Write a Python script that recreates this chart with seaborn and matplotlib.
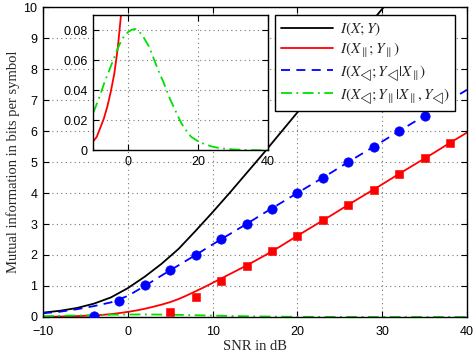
import matplotlib
matplotlib.use("Agg")
import matplotlib.pyplot as plt
import seaborn as sns

# SNR grids (dB)
snr = [-10, -8, -6, -4, -2, 0, 2, 4, 6, 8, 10, 12, 14, 16, 18, 20,
       22, 24, 26, 28, 30, 32, 34, 36, 38, 40]
snr_fine = [-10, -9, -8, -7, -6, -5, -4, -3, -2, -1, 0, 1, 2, 3, 4, 5,
            6, 7, 8, 9, 10, 11, 12, 13, 14, 15, 16, 17, 18, 19, 20,
            22, 24, 26, 28, 30, 32, 34, 36, 38, 40]

# I(X;Y)
mi_total = [0.14, 0.2, 0.29, 0.43, 0.63, 0.93, 1.3, 1.72, 2.2, 2.78, 3.38,
            4.0, 4.64, 5.28, 5.94, 6.6, 7.26, 7.92, 8.6, 9.27, 9.94, 10.6,
            11.26, 11.92, 12.58, 13.24]
# I(X_par;Y_par)
mi_par = [0.006, 0.009, 0.015, 0.021, 0.029, 0.039, 0.051, 0.068, 0.092,
          0.125, 0.165, 0.21, 0.265, 0.33, 0.4, 0.48, 0.58, 0.7, 0.83,
          0.96, 1.1, 1.24, 1.38, 1.52, 1.66, 1.81, 1.96, 2.12, 2.28, 2.45,
          2.62, 2.95, 3.28, 3.62, 3.95, 4.28, 4.62, 4.95, 5.28, 5.62, 5.95]
# I(X_tri;Y_tri|X_par)
mi_tri = [0.12, 0.17, 0.25, 0.35, 0.47, 0.68, 1.0, 1.34, 1.67, 2.0, 2.34,
          2.67, 3.0, 3.34, 3.67, 4.0, 4.33, 4.66, 5.0, 5.33, 5.66, 6.0,
          6.33, 6.66, 7.0, 7.33]
# I(X_tri;Y_par|X_par,Y_tri)
mi_cross = [0.025, 0.031, 0.037, 0.044, 0.05, 0.056, 0.062, 0.068, 0.073,
            0.077, 0.079, 0.0805, 0.081, 0.0795, 0.077, 0.073, 0.069, 0.063,
            0.057, 0.051, 0.046, 0.04, 0.034, 0.029, 0.024, 0.019, 0.015,
            0.012, 0.009, 0.0075, 0.006, 0.004, 0.0025, 0.0015, 0.001,
            0.0006, 0.0004, 0.0002, 0.0001, 0.0, 0.0]

# simulated points
sim_tri_snr = [-4, -1, 2, 5, 8, 11, 14, 17, 20, 23, 26, 29, 32, 35, 38]
sim_tri = [0.03, 0.5, 1.02, 1.51, 2.01, 2.5, 3.0, 3.5, 4.0, 4.49, 5.0,
           5.49, 5.99, 6.49, 6.98]
sim_par_snr = [5, 8, 11, 14, 17, 20, 23, 26, 29, 32, 35, 38]
sim_par = [0.15, 0.65, 1.15, 1.65, 2.12, 2.62, 3.12, 3.61, 4.11, 4.6,
           5.12, 5.61]

labels = [r"$I(X;Y)$",
          r"$I(X_{\parallel};Y_{\parallel})$",
          r"$I(X_{\triangleleft};Y_{\triangleleft}|X_{\parallel})$",
          r"$I(X_{\triangleleft};Y_{\parallel}|X_{\parallel},Y_{\triangleleft})$"]
inset_yticks = [0, 0.02, 0.04, 0.06, 0.08]
inset_ylabels = ["0", "0.02", "0.04", "0.06", "0.08"]

sns.set_style("ticks")
plt.rcParams["font.family"] = ["Liberation Sans", "DejaVu Sans"]
plt.rcParams["mathtext.fontset"] = "stix"

RED = "#ff0000"
BLUE = "#0000ff"
GREEN = "#00e000"
DASH = (0, (5, 3.5))
DASHDOT = (0, (6, 2.5, 1, 2.5))
GRID = dict(color="#777777", linestyle=(0, (1, 3)), linewidth=0.8)


def style_axes(a):
    a.grid(True, **GRID)
    a.tick_params(direction="in", top=True, right=True, length=4,
                  width=0.8, labelsize=9, colors="black", pad=4)
    for s in a.spines.values():
        s.set_color("black")
        s.set_linewidth(1.0)
        s.set_visible(True)


fig = plt.figure(figsize=(4.74, 3.56), dpi=100)
ax = fig.add_axes([0.0907, 0.1096, 0.8945, 0.8706])

sns.lineplot(x=snr, y=mi_total, ax=ax, color="black", lw=1.3, label=labels[0])
sns.lineplot(x=snr_fine, y=mi_par, ax=ax, color=RED, lw=1.3, label=labels[1])
sns.lineplot(x=snr, y=mi_tri, ax=ax, color=BLUE, lw=1.3, linestyle=DASH,
             label=labels[2])
sns.lineplot(x=snr_fine, y=mi_cross, ax=ax, color=GREEN, lw=1.3,
             linestyle=DASHDOT, label=labels[3])
sns.scatterplot(x=sim_par_snr, y=sim_par, ax=ax, marker="s", s=28,
                color=RED, edgecolor=RED, zorder=3)
sns.scatterplot(x=sim_tri_snr, y=sim_tri, ax=ax, marker="o", s=45,
                color=BLUE, edgecolor=BLUE, zorder=3)

ax.set_xlim(-10, 40)
ax.set_ylim(0, 10)
ax.set_xticks([-10, 0, 10, 20, 30, 40])
ax.set_yticks(range(0, 11))
style_axes(ax)
ax.tick_params(axis="x", pad=6.5)
ax.set_xlabel("SNR in dB", family="Liberation Serif", fontsize=10.5)
ax.set_ylabel("Mutual information in bits per symbol",
              family="Liberation Serif", fontsize=10.5)
ax.xaxis.set_label_coords(0.5, -0.074)
ax.yaxis.set_label_coords(-0.055, 0.5)

leg = ax.legend(loc="upper right", bbox_to_anchor=(0.972, 0.974),
                borderaxespad=0, fontsize=11, handlelength=3.4,
                handletextpad=0.45, labelspacing=0.2, borderpad=0.35,
                fancybox=False, framealpha=1, edgecolor="black")
leg.get_frame().set_linewidth(1.0)

# inset zoom on small values
ins = fig.add_axes([0.1968, 0.5778, 0.3686, 0.3787])
ins.set_facecolor("white")
sns.lineplot(x=snr_fine, y=mi_par, ax=ins, color=RED, lw=1.3)
sns.lineplot(x=snr_fine, y=mi_cross, ax=ins, color=GREEN, lw=1.3,
             linestyle=DASHDOT)
ins.set_xlim(-10, 40)
ins.set_ylim(0, 0.09)
ins.set_xticks([0, 20, 40])
ins.set_yticks(inset_yticks)
ins.set_yticklabels(inset_ylabels)
style_axes(ins)
ins.set_xlabel("")
ins.set_ylabel("")

fig.savefig("out.png", dpi=100)
